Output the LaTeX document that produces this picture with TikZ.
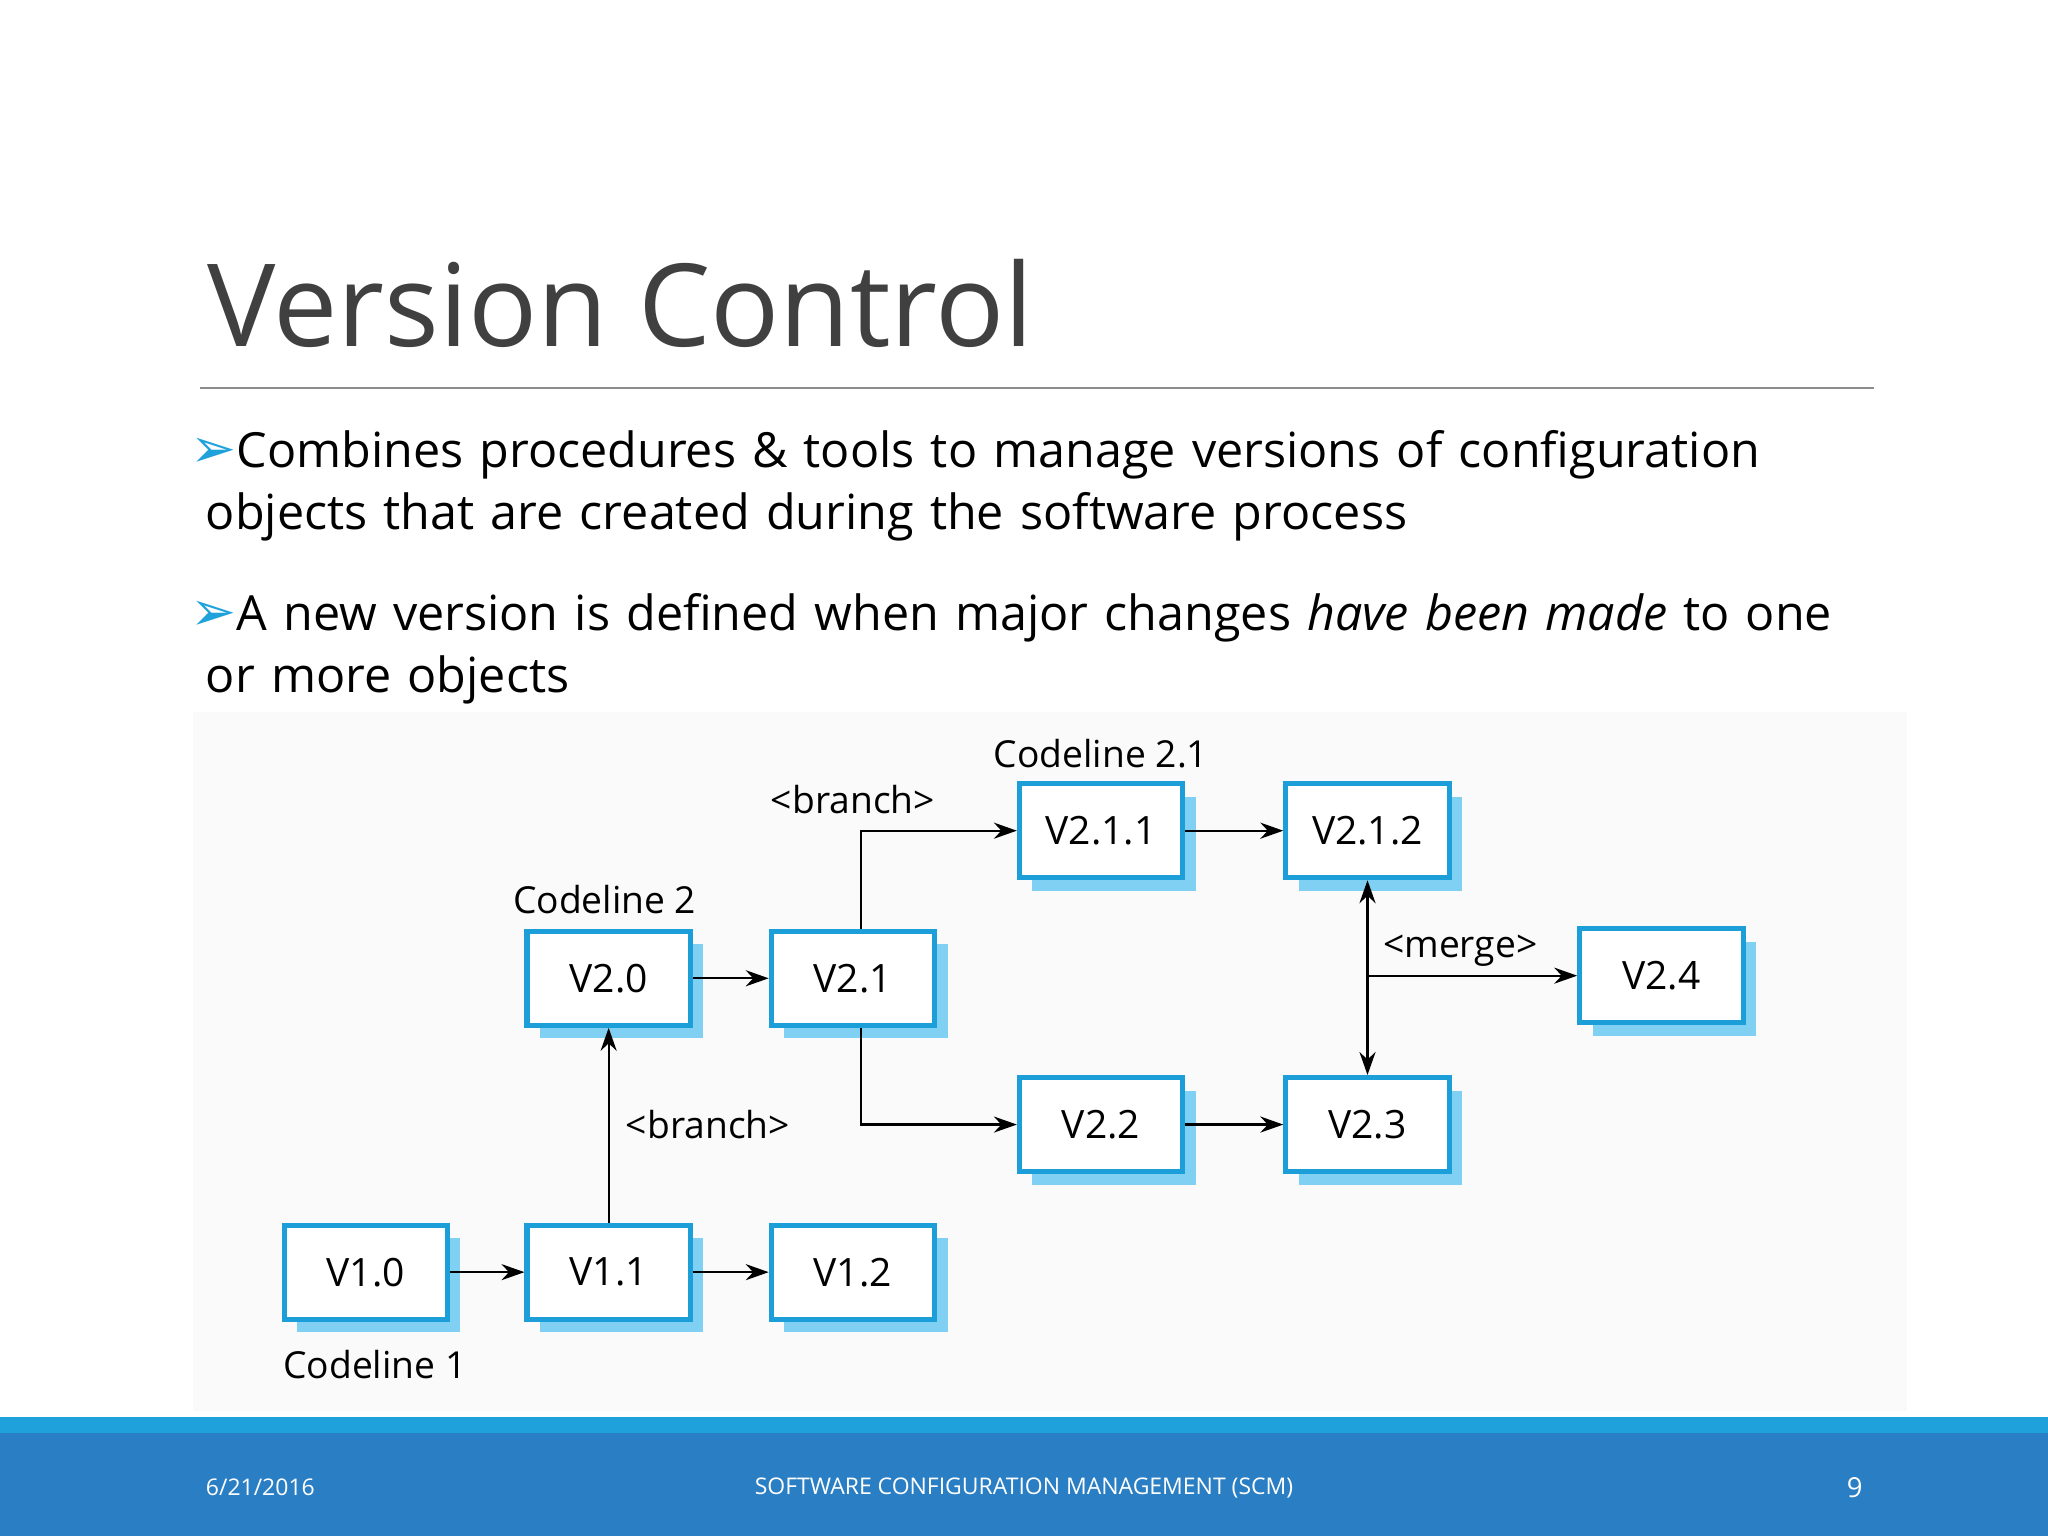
\documentclass[tikz,border=0pt]{standalone}
\usepackage{fontspec}
\setmainfont{Open Sans}
\usetikzlibrary{arrows.meta,calc}
\definecolor{boxblue}{HTML}{1C9ED8}
\definecolor{shadowblue}{HTML}{7FD0F2}
\definecolor{footdark}{HTML}{2A7EC3}
\definecolor{footlight}{HTML}{1FA2DC}
\definecolor{titlegray}{HTML}{404040}
\tikzset{
  ver/.style={draw=boxblue,line width=1.1pt,fill=white,minimum width=1.25cm,minimum height=0.72cm,inner sep=0pt,font=\fontsize{8.5}{10}\selectfont},
  arr/.style={-{Stealth[length=5pt,width=3.5pt]},line width=0.5pt},
  lbl/.style={font=\fontsize{8.1}{10}\selectfont,inner sep=0pt},
}
\newcommand{\verbox}[3]{%
  \fill[shadowblue] ($(#2)+(10,10)$) +(-62.5,-36) rectangle +(62.5,36);
  \node[ver] (#1) at (#2) {#3};}
\begin{document}
\begin{tikzpicture}[x=0.01cm,y=-0.01cm]
\useasboundingbox (0,0) rectangle (1568,1176);
\fill[white] (0,0) rectangle (1568,1176);
\fill[black!2] (148,545) rectangle (1460,1080);
\node[anchor=west,text=titlegray,font=\fontsize{25}{30}\selectfont,inner sep=0pt] (title) at (158,232) {Version Control};
\draw[black!45,line width=0.6pt] (153,297) -- (1435,297);
\node[anchor=north west,text width=13.2cm,align=left,font=\fontsize{10.55}{13.4}\selectfont,inner sep=0pt] (b1) at (145,329)
 {\textcolor{footlight}{\fontspec{DejaVu Sans}\fontsize{12}{13}\selectfont➢}Combines procedures \& tools to manage versions of configuration\\\hspace*{0.12cm}objects that are created during the software process};
\node[anchor=north west,text width=13.4cm,align=left,font=\fontsize{10.55}{13.4}\selectfont,inner sep=0pt] (b2) at (145,454)
 {\textcolor{footlight}{\fontspec{DejaVu Sans}\fontsize{12}{13}\selectfont➢}A new version is defined when major changes \textit{have been made} to one\\\hspace*{0.12cm}or more objects};
\verbox{v10}{280,974}{V1.0}
\verbox{v11}{466,974}{V1.1}
\verbox{v12}{653,974}{V1.2}
\verbox{v20}{466,749}{V2.0}
\verbox{v21}{653,749}{V2.1}
\verbox{v211}{843,636}{V2.1.1}
\verbox{v212}{1047,636}{V2.1.2}
\verbox{v22}{843,861}{V2.2}
\verbox{v23}{1047,861}{V2.3}
\verbox{v24}{1272,747}{V2.4}
\draw[arr] (v10) -- (v11);
\draw[arr] (v11) -- (v12);
\draw[arr] (v11) -- (v20);
\draw[arr] (v20) -- (v21);
\draw[arr] (v21.north -| 659,0) |- (v211.west);
\draw[arr] (v21.south -| 659,0) |- (v22.west);
\draw[arr] (v211) -- (v212);
\draw[arr] (v22) -- (v23);
\coordinate (m) at (1047,747);
\draw[arr] (m) -- (v212.south);
\draw[arr] (m) -- (v23.north);
\draw[arr] (m) -- (v24.west);
\node[lbl] (l1) at (653,612) {<branch>};
\node[lbl] (l2) at (542,861) {<branch>};
\node[lbl] (l3) at (1118,728) {<merge>};
\node[lbl] (c21) at (843,577) {Codeline 2.1};
\node[lbl] (c2) at (463,689) {Codeline 2};
\node[lbl] (c1) at (287,1045) {Codeline 1};
\fill[footlight] (0,1085) rectangle (1568,1097);
\fill[footdark] (0,1097) rectangle (1568,1176);
\node[text=white,font=\fontsize{5}{6}\selectfont,anchor=west,inner sep=0pt] (d) at (157,1139) {6/21/2016};
\node[text=white,font=\fontsize{5}{6}\selectfont] (f) at (784,1139) {SOFTWARE CONFIGURATION MANAGEMENT (SCM)};
\node[text=white,font=\fontsize{6}{7}\selectfont] (p) at (1420,1139) {9};
\end{tikzpicture}
\end{document}
